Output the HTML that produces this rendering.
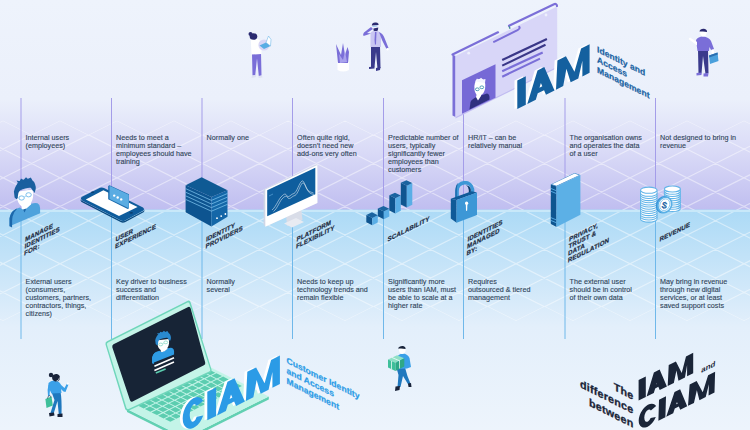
<!DOCTYPE html>
<html><head><meta charset="utf-8">
<style>
html,body{margin:0;padding:0;width:750px;height:430px;overflow:hidden;background:#eef2fb;}
svg{display:block;}
.t{font-family:"Liberation Sans",sans-serif;font-size:7.2px;fill:#30455a;stroke:#30455a;stroke-width:0.12px;}
.lb{font-family:"Liberation Sans",sans-serif;font-size:6.6px;font-weight:bold;fill:#1d2a40;stroke:#1d2a40;stroke-width:0.2px;letter-spacing:0.2px;}
.big{font-family:"Liberation Sans",sans-serif;font-weight:bold;}
</style></head>
<body>
<svg width="750" height="430" viewBox="0 0 750 430">
<defs>
<linearGradient id="bg" x1="0" y1="0" x2="0" y2="430" gradientUnits="userSpaceOnUse">
<stop offset="0" stop-color="#eef3fc"/>
<stop offset="0.23" stop-color="#ebf0fb"/>
<stop offset="0.35" stop-color="#dadbf7"/>
<stop offset="0.4860" stop-color="#c0bef0"/>
<stop offset="0.4884" stop-color="#acdaf6"/>
<stop offset="0.76" stop-color="#e3effb"/>
<stop offset="1" stop-color="#edf4fc"/>
</linearGradient>

<clipPath id="gc"><polygon points="-111.0,120.5 -82.5,134.8 -54.0,120.5 -25.5,134.8 3.0,120.5 31.5,134.8 60.0,120.5 88.5,134.8 117.0,120.5 145.5,134.8 174.0,120.5 202.5,134.8 231.0,120.5 259.5,134.8 288.0,120.5 316.5,134.8 345.0,120.5 373.5,134.8 402.0,120.5 430.5,134.8 459.0,120.5 487.5,134.8 516.0,120.5 544.5,134.8 573.0,120.5 601.5,134.8 630.0,120.5 658.5,134.8 687.0,120.5 715.5,134.8 744.0,120.5 772.5,134.8 801.0,120.5 829.5,134.8 829.5,306.7 801.0,321.0 772.5,306.7 744.0,321.0 715.5,306.7 687.0,321.0 658.5,306.7 630.0,321.0 601.5,306.7 573.0,321.0 544.5,306.7 516.0,321.0 487.5,306.7 459.0,321.0 430.5,306.7 402.0,321.0 373.5,306.7 345.0,321.0 316.5,306.7 288.0,321.0 259.5,306.7 231.0,321.0 202.5,306.7 174.0,321.0 145.5,306.7 117.0,321.0 88.5,306.7 60.0,321.0 31.5,306.7 3.0,321.0 -25.5,306.7 -54.0,321.0 -82.5,306.7 -111.0,321.0"/></clipPath>
</defs>
<rect width="750" height="430" fill="url(#bg)"/>
<path clip-path="url(#gc)" d="M-50 437.66L800 864.90M-50 -196.66L800 -623.90M-50 409.01L800 836.25M-50 -168.01L800 -595.25M-50 380.36L800 807.60M-50 -139.36L800 -566.60M-50 351.71L800 778.95M-50 -110.71L800 -537.95M-50 323.06L800 750.30M-50 -82.06L800 -509.30M-50 294.41L800 721.65M-50 -53.41L800 -480.65M-50 265.76L800 693.00M-50 -24.76L800 -452.00M-50 237.11L800 664.35M-50 3.89L800 -423.35M-50 208.46L800 635.70M-50 32.54L800 -394.70M-50 179.81L800 607.05M-50 61.19L800 -366.05M-50 151.16L800 578.40M-50 89.84L800 -337.40M-50 122.51L800 549.75M-50 118.49L800 -308.75M-50 93.86L800 521.10M-50 147.14L800 -280.10M-50 65.21L800 492.45M-50 175.79L800 -251.45M-50 36.56L800 463.80M-50 204.44L800 -222.80M-50 7.91L800 435.15M-50 233.09L800 -194.15M-50 -20.74L800 406.50M-50 261.74L800 -165.50M-50 -49.39L800 377.85M-50 290.39L800 -136.85M-50 -78.04L800 349.20M-50 319.04L800 -108.20M-50 -106.69L800 320.55M-50 347.69L800 -79.55M-50 -135.34L800 291.90M-50 376.34L800 -50.90M-50 -163.99L800 263.25M-50 404.99L800 -22.25M-50 -192.64L800 234.60M-50 433.64L800 6.40M-50 -221.29L800 205.95M-50 462.29L800 35.05M-50 -249.94L800 177.30M-50 490.94L800 63.70M-50 -278.59L800 148.65M-50 519.59L800 92.35M-50 -307.24L800 120.00M-50 548.24L800 121.00M-50 -335.89L800 91.35M-50 576.89L800 149.65M-50 -364.54L800 62.70M-50 605.54L800 178.30M-50 -393.19L800 34.05M-50 634.19L800 206.95M-50 -421.84L800 5.40M-50 662.84L800 235.60M-50 -450.49L800 -23.25M-50 691.49L800 264.25M-50 -479.14L800 -51.90M-50 720.14L800 292.90M-50 -507.79L800 -80.55M-50 748.79L800 321.55M-50 -536.44L800 -109.20M-50 777.44L800 350.20M-50 -565.09L800 -137.85M-50 806.09L800 378.85M-50 -593.74L800 -166.50M-50 834.74L800 407.50M-50 -622.39L800 -195.15M-50 863.39L800 436.15M-50 -651.04L800 -223.80M-50 892.04L800 464.80M-50 -679.69L800 -252.45M-50 920.69L800 493.45M-50 -708.34L800 -281.10M-50 949.34L800 522.10M-50 -736.99L800 -309.75M-50 977.99L800 550.75" stroke="#ffffff" stroke-width="1.2" stroke-opacity="0.45" fill="none"/>
<line x1="0" y1="211" x2="750" y2="211" stroke="#c8e8f9" stroke-width="2"/>
<line x1="21" y1="98" x2="21" y2="210" stroke="#a49de9" stroke-width="1"/>
<line x1="21" y1="210" x2="21" y2="339" stroke="#6fb8ea" stroke-width="1"/>
<line x1="111.5" y1="98" x2="111.5" y2="210" stroke="#a49de9" stroke-width="1"/>
<line x1="111.5" y1="210" x2="111.5" y2="339" stroke="#6fb8ea" stroke-width="1"/>
<line x1="202" y1="98" x2="202" y2="210" stroke="#a49de9" stroke-width="1"/>
<line x1="202" y1="210" x2="202" y2="339" stroke="#6fb8ea" stroke-width="1"/>
<line x1="292.5" y1="98" x2="292.5" y2="210" stroke="#a49de9" stroke-width="1"/>
<line x1="292.5" y1="210" x2="292.5" y2="339" stroke="#6fb8ea" stroke-width="1"/>
<line x1="383.5" y1="98" x2="383.5" y2="210" stroke="#a49de9" stroke-width="1"/>
<line x1="383.5" y1="210" x2="383.5" y2="339" stroke="#6fb8ea" stroke-width="1"/>
<line x1="463.5" y1="112" x2="463.5" y2="210" stroke="#a49de9" stroke-width="1"/>
<line x1="463.5" y1="210" x2="463.5" y2="339" stroke="#6fb8ea" stroke-width="1"/>
<line x1="565" y1="98" x2="565" y2="210" stroke="#a49de9" stroke-width="1"/>
<line x1="565" y1="210" x2="565" y2="339" stroke="#6fb8ea" stroke-width="1"/>
<line x1="655.5" y1="98" x2="655.5" y2="210" stroke="#a49de9" stroke-width="1"/>
<line x1="655.5" y1="210" x2="655.5" y2="339" stroke="#6fb8ea" stroke-width="1"/>
<g>
<path d="M9.5 226.3 L9.5 218.5 Q10.5 213 13 211 Q16 208.5 19.5 207.5 L24.2 210 L31.2 203.8 Q35 202.5 37.5 203.3 Q40 204.5 40.1 208 L40.1 213.3 Z" fill="#4fa2dc"/>
<path d="M9.5 226.3 L9.5 218.5 Q10.5 213 13 211 Q15.5 209 17.5 208.3 Q13.5 212 12.6 216.5 Q12 219 12.1 227.6 Z" fill="#1c68ab"/>
<path d="M21.6 205.7 L30.6 202.8 L31.2 204.3 L24.2 210.6 L21.6 208.6 Z" fill="#ffffff"/>
<path d="M23 209.6 L24.6 212.6 L26.4 208.4 Z" fill="#1c68ab"/>
<path d="M17.8 191.6 L32.5 189.7 Q33.6 193 33.1 196.7 Q32.6 200.5 31.2 202.5 Q29.5 205 27.4 205.7 Q24.5 207 22.3 207 Q19.5 205 18.4 202.5 Q17 199.5 17.1 196.7 Z" fill="#ffffff"/>
<path d="M14.6 197.4 L13.9 191.6 Q14.5 188 15.9 185.9 L17.8 182.7 Q19.5 181 21.6 180.1 L26.1 179.5 L29.3 178.6 L32.5 180.6 Q34.5 182 35 183.9 Q36 186.5 35.7 189.1 Q35.3 191.5 34.4 192.9 Q33.5 191 32.5 190.3 Q31.5 188.5 30.6 187.8 Q28 187.6 25.4 188.4 Q22.5 189 20.3 190.3 Q19 191.5 18.4 192.9 Q17.8 195.5 17.8 198 L16.5 199.3 Z" fill="#1a5f9f"/>
<path d="M17.8 182.7 L16.6 180.6 L19.7 181.2 L21 178.6 L23.5 180 L26 177.3 L28 179 L30.8 177.6 L32.5 180.6 Z" fill="#1a5f9f"/>
<ellipse cx="21.6" cy="198" rx="2.7" ry="2.1" fill="none" stroke="#6db8ea" stroke-width="0.9"/>
<ellipse cx="28.6" cy="194.8" rx="2.7" ry="2.1" fill="none" stroke="#6db8ea" stroke-width="0.9"/>
<path d="M24.2 197 L25.9 196" stroke="#6db8ea" stroke-width="0.7"/>
</g>
<g>
<path d="M81.5 197 L100 187.8 Q102 187 104 187.9 L143 207.5 Q145 209 143.5 210.5 L125 220.5 Q123 221.5 121 220.6 L82 200.5 Q80 198.8 81.5 197 Z" fill="#0f5c9c"/>
<path d="M80.6 199 L80.6 200.5 Q80.8 201.6 82 202.2 L121 222.3 Q123 223 125 222.2 L143.5 212.3 Q144.6 211.5 144.5 210.3 L144.5 209 Q144.6 210.3 143.5 211 L125 220.8 Q123 221.6 121 220.8 L82 200.8 Q80.6 200 80.6 199 Z" fill="#0a4a80"/>
<path d="M85.8 199.6 L103.4 190.3 L137.6 206.9 L119 215.9 Z" fill="#ffffff"/>
<ellipse cx="92.6" cy="192.3" rx="1.6" ry="0.8" fill="#0a3f70"/>
<ellipse cx="131.2" cy="212.8" rx="1.8" ry="0.9" fill="#0a3f70"/>
<path d="M108.2 186 L109.5 185.2 L129 194.2 L129 208.2 L127.7 208.9 L108.2 199.3 Z" fill="#1a6aad"/>
<path d="M109.5 185.8 L128.8 194.7 L128.8 208.2 L109.5 199 Z" fill="#5aace2"/>
<circle cx="114.2" cy="195.6" r="1.2" fill="#fff"/>
<circle cx="117.7" cy="197.5" r="1.2" fill="#fff"/>
<circle cx="121.2" cy="199.4" r="1.2" fill="#fff"/>
</g>
<polygon points="185.6,185.3 211.4,197.1 211.4,226.5 185.6,212.3" fill="#0d5490"/>
<polygon points="211.4,197.1 227.5,190.2 227.5,216.7 211.4,226.5" fill="#1467a8"/>
<polygon points="201.6,177.3 227.5,190.2 211.4,197.1 185.6,185.3" fill="#0f5a94"/>
<polyline points="185.6,188.6 211.4,200.4 227.5,193.5" fill="none" stroke="#7cc3ee" stroke-width="0.75"/>
<polyline points="185.6,192.2 211.4,204.0 227.5,197.1" fill="none" stroke="#7cc3ee" stroke-width="0.75"/>
<polyline points="185.6,195.8 211.4,207.6 227.5,200.7" fill="none" stroke="#7cc3ee" stroke-width="0.75"/>
<polyline points="185.6,199.4 211.4,211.2 227.5,204.3" fill="none" stroke="#7cc3ee" stroke-width="0.75"/>
<circle cx="217.0" cy="218.2" r="0.9" fill="#fff"/>
<circle cx="221.2" cy="216.1" r="0.9" fill="#fff"/>
<circle cx="225.4" cy="214.0" r="0.9" fill="#fff"/>
<g>
<path d="M286 214 L301 207.5 L302.5 220 L287 226 Z" fill="#d9dde8"/>
<path d="M284 223.5 L296 218 L304 222 L292 227.5 Z" fill="#e8ebf2"/>
<path d="M263.6 189.5 L316.6 164.5 L317.4 165 L317.4 203 L266 226.5 L263.6 225 Z" fill="#cfd6e6"/>
<path d="M265.3 189.6 L317.4 165 L317.4 203 L265.3 226.8 Z" fill="#ffffff"/>
<path d="M267.2 190.3 L315.3 167.8 L315.3 194.3 L267.2 216.2 Z" fill="#0f5e9e"/>
<path d="M272 210 C276 207 279 198 282 196 C284 194 285.5 193 287 196 C289 198 291 194 294 193.5 C297 192 299 183 302 181 C304 180 305 186 307 189 C309 192 311 192 313.5 193" fill="none" stroke="#ffffff" stroke-width="0.5"/>
<path d="M273.5 211.5 C277.5 208.5 280 200 283 198 C285 196 286.5 195.5 288 198 C290 200 292 196 295 195.5 C298 194 300 185 302.5 183 C304.5 182 306 188 308 191 C310 194 312 194 314 194.5" fill="none" stroke="#ffffff" stroke-width="0.5"/>
<path d="M269 196 L273 194" stroke="#6aaee0" stroke-width="0.6"/>
</g>
<polygon points="366.3,214.9 372.3,217.9 372.3,225.2 366.3,222.2" fill="#0f5590"/>
<polygon points="372.3,217.9 377.8,215.2 377.8,222.5 372.3,225.2" fill="#5aaee6"/>
<polygon points="372.0,212.3 377.8,215.2 372.3,217.9 366.3,214.9" fill="#1a64a0"/>
<polygon points="377.8,208.5 383.8,211.5 383.8,219.3 377.8,216.3" fill="#0f5590"/>
<polygon points="383.8,211.5 389.3,208.8 389.3,216.6 383.8,219.3" fill="#5aaee6"/>
<polygon points="383.5,205.9 389.3,208.8 383.8,211.5 377.8,208.5" fill="#1a64a0"/>
<polygon points="389.3,195.3 395.3,198.3 395.3,213.4 389.3,210.4" fill="#0f5590"/>
<polygon points="395.3,198.3 400.8,195.6 400.8,210.7 395.3,213.4" fill="#5aaee6"/>
<polygon points="395.0,192.7 400.8,195.6 395.3,198.3 389.3,195.3" fill="#1a64a0"/>
<polygon points="400.8,182.8 406.8,185.8 406.8,207.5 400.8,204.5" fill="#0f5590"/>
<polygon points="406.8,185.8 412.3,183.1 412.3,204.8 406.8,207.5" fill="#5aaee6"/>
<polygon points="406.5,180.2 412.3,183.1 406.8,185.8 400.8,182.8" fill="#1a64a0"/>
<g>
<path d="M455.3 199 L455.3 190 Q456 182 464.5 180.8 Q472.5 181 474.3 189 L474.3 193.5 L470.8 194.8 L470.8 189.5 Q470 184.5 464.6 184.6 Q458.8 185.5 458.8 191 L458.8 198.5 Z" fill="#3d97d6"/>
<path d="M470.8 189.5 L470.8 194.8 L468.8 195.5 L468.8 190 Q468.5 186.5 466 185.2 Q470 185.5 470.8 189.5 Z" fill="#0c3f6e"/>
<path d="M455.3 199 L455.3 191 Q455.5 185 458 183 Q456.8 186 456.8 191 L456.8 199 Z" fill="#1c6aab"/>
<polygon points="450.8,198.8 471.7,191.3 477,192.4 456.6,200" fill="#0f5a98"/>
<polygon points="450.8,198.8 456.6,200 456.6,222.7 450.8,218.6" fill="#0f5a98"/>
<polygon points="456.6,200 477,192.4 477,215.1 456.6,222.7" fill="#3d97d6"/>
<circle cx="466.6" cy="203.2" r="1.6" fill="#fff"/>
<path d="M465.8 203.5 L467.4 203 L467.2 210.5 L466 211 Z" fill="#fff"/>
</g>
<g>
<polygon points="550.8,184.4 574.6,172.9 580.4,175 556.5,186.6" fill="#2f86c8"/>
<polygon points="552,184.2 574.6,173.5 579,175.3 556.5,185.8" fill="#ffffff"/>
<polygon points="550.8,184.4 556.5,186.6 556.5,227 550.8,224.1" fill="#0e5590"/>
<polygon points="556.5,186.6 580.4,175 580.4,214.7 556.5,227" fill="#5cb0e6"/>
<path d="M550.8 188.4 L556.5 190.8 M550.8 191.2 L556.5 193.6 M550.8 217.6 L556.5 220 M550.8 220.4 L556.5 222.8" stroke="#5aaee6" stroke-width="0.9"/>
</g>
<rect x="664.4" y="189.0" width="16.0" height="19.5" fill="#ffffff"/><ellipse cx="672.4" cy="208.5" rx="8.0" ry="3.0" fill="#ffffff"/><path d="M664.4 208.5 A8.0 3.0 0 0 0 680.4 208.5" fill="none" stroke="#62b4e8" stroke-width="1.05"/><path d="M664.4 206.3 A8.0 3.0 0 0 0 680.4 206.3" fill="none" stroke="#62b4e8" stroke-width="1.05"/><path d="M664.4 204.2 A8.0 3.0 0 0 0 680.4 204.2" fill="none" stroke="#62b4e8" stroke-width="1.05"/><path d="M664.4 202.0 A8.0 3.0 0 0 0 680.4 202.0" fill="none" stroke="#62b4e8" stroke-width="1.05"/><path d="M664.4 199.9 A8.0 3.0 0 0 0 680.4 199.9" fill="none" stroke="#62b4e8" stroke-width="1.05"/><path d="M664.4 197.7 A8.0 3.0 0 0 0 680.4 197.7" fill="none" stroke="#62b4e8" stroke-width="1.05"/><path d="M664.4 195.6 A8.0 3.0 0 0 0 680.4 195.6" fill="none" stroke="#62b4e8" stroke-width="1.05"/><path d="M664.4 193.4 A8.0 3.0 0 0 0 680.4 193.4" fill="none" stroke="#62b4e8" stroke-width="1.05"/><path d="M664.4 191.3 A8.0 3.0 0 0 0 680.4 191.3" fill="none" stroke="#62b4e8" stroke-width="1.05"/><path d="M664.4 189.0 V208.5 M680.4 189.0 V208.5" stroke="#62b4e8" stroke-width="0.9"/><ellipse cx="672.4" cy="189.0" rx="8.0" ry="3.0" fill="#ffffff" stroke="#62b4e8" stroke-width="1.1"/>
<rect x="640.5" y="190.2" width="16.6" height="28.8" fill="#ffffff"/><ellipse cx="648.8" cy="219.0" rx="8.3" ry="3.1" fill="#ffffff"/><path d="M640.5 219.0 A8.3 3.1 0 0 0 657.1 219.0" fill="none" stroke="#62b4e8" stroke-width="1.05"/><path d="M640.5 216.8 A8.3 3.1 0 0 0 657.1 216.8" fill="none" stroke="#62b4e8" stroke-width="1.05"/><path d="M640.5 214.7 A8.3 3.1 0 0 0 657.1 214.7" fill="none" stroke="#62b4e8" stroke-width="1.05"/><path d="M640.5 212.5 A8.3 3.1 0 0 0 657.1 212.5" fill="none" stroke="#62b4e8" stroke-width="1.05"/><path d="M640.5 210.4 A8.3 3.1 0 0 0 657.1 210.4" fill="none" stroke="#62b4e8" stroke-width="1.05"/><path d="M640.5 208.2 A8.3 3.1 0 0 0 657.1 208.2" fill="none" stroke="#62b4e8" stroke-width="1.05"/><path d="M640.5 206.1 A8.3 3.1 0 0 0 657.1 206.1" fill="none" stroke="#62b4e8" stroke-width="1.05"/><path d="M640.5 203.9 A8.3 3.1 0 0 0 657.1 203.9" fill="none" stroke="#62b4e8" stroke-width="1.05"/><path d="M640.5 201.8 A8.3 3.1 0 0 0 657.1 201.8" fill="none" stroke="#62b4e8" stroke-width="1.05"/><path d="M640.5 199.6 A8.3 3.1 0 0 0 657.1 199.6" fill="none" stroke="#62b4e8" stroke-width="1.05"/><path d="M640.5 197.5 A8.3 3.1 0 0 0 657.1 197.5" fill="none" stroke="#62b4e8" stroke-width="1.05"/><path d="M640.5 195.3 A8.3 3.1 0 0 0 657.1 195.3" fill="none" stroke="#62b4e8" stroke-width="1.05"/><path d="M640.5 193.2 A8.3 3.1 0 0 0 657.1 193.2" fill="none" stroke="#62b4e8" stroke-width="1.05"/><path d="M640.5 190.2 V219.0 M657.1 190.2 V219.0" stroke="#62b4e8" stroke-width="0.9"/><ellipse cx="648.8" cy="190.2" rx="8.3" ry="3.1" fill="#ffffff" stroke="#62b4e8" stroke-width="1.1"/>
<g transform="translate(664.8 204.8) rotate(25)">
<ellipse cx="-1.3" cy="0.5" rx="7.4" ry="8.8" fill="#3a95d8"/>
<ellipse cx="0" cy="0" rx="7.4" ry="8.8" fill="#5ab0e6"/>
<ellipse cx="0" cy="0" rx="5.8" ry="7.1" fill="#ffffff"/>
<ellipse cx="0" cy="0" rx="4.8" ry="6.1" fill="none" stroke="#5ab0e6" stroke-width="0.6"/>
</g>
<text x="661.8" y="208.6" font-family="Liberation Sans" font-weight="bold" font-size="9.5" fill="#1a5f9f" transform="rotate(15 665 205)">$</text>
<text class="t" x="25.6" y="140"><tspan x="25.6" y="140.0">Internal users</tspan><tspan x="25.6" y="148.0">(employees)</tspan></text>
<text class="t" x="25.6" y="284"><tspan x="25.6" y="284.0">External users</tspan><tspan x="25.6" y="292.0">(consumers,</tspan><tspan x="25.6" y="300.0">customers, partners,</tspan><tspan x="25.6" y="308.0">contractors, things,</tspan><tspan x="25.6" y="316.0">citizens)</tspan></text>
<g transform="matrix(0.92,-0.46,-0.06,1,24.9,241.8)"><text class="lb" x="0" y="0"><tspan x="0" y="0.0">MANAGE</tspan><tspan x="0" y="7.0">IDENTITIES</tspan><tspan x="0" y="14.0">FOR:</tspan></text></g>
<text class="t" x="116.1" y="140"><tspan x="116.1" y="140.0">Needs to meet a</tspan><tspan x="116.1" y="148.0">minimum standard –</tspan><tspan x="116.1" y="156.0">employees should have</tspan><tspan x="116.1" y="164.0">training</tspan></text>
<text class="t" x="116.1" y="284"><tspan x="116.1" y="284.0">Key driver to business</tspan><tspan x="116.1" y="292.0">success and</tspan><tspan x="116.1" y="300.0">differentiation</tspan></text>
<g transform="matrix(0.92,-0.46,-0.06,1,115.4,241.8)"><text class="lb" x="0" y="0"><tspan x="0" y="0.0">USER</tspan><tspan x="0" y="7.0">EXPERIENCE</tspan></text></g>
<text class="t" x="206.6" y="140"><tspan x="206.6" y="140.0">Normally one</tspan></text>
<text class="t" x="206.6" y="284"><tspan x="206.6" y="284.0">Normally</tspan><tspan x="206.6" y="292.0">several</tspan></text>
<g transform="matrix(0.92,-0.46,-0.06,1,205.9,241.8)"><text class="lb" x="0" y="0"><tspan x="0" y="0.0">IDENTITY</tspan><tspan x="0" y="7.0">PROVIDERS</tspan></text></g>
<text class="t" x="297.1" y="140"><tspan x="297.1" y="140.0">Often quite rigid,</tspan><tspan x="297.1" y="148.0">doesn’t need new</tspan><tspan x="297.1" y="156.0">add-ons very often</tspan></text>
<text class="t" x="297.1" y="284"><tspan x="297.1" y="284.0">Needs to keep up</tspan><tspan x="297.1" y="292.0">technology trends and</tspan><tspan x="297.1" y="300.0">remain flexible</tspan></text>
<g transform="matrix(0.92,-0.46,-0.06,1,296.4,241.8)"><text class="lb" x="0" y="0"><tspan x="0" y="0.0">PLATFORM</tspan><tspan x="0" y="7.0">FLEXIBILITY</tspan></text></g>
<text class="t" x="388.1" y="140"><tspan x="388.1" y="140.0">Predictable number of</tspan><tspan x="388.1" y="148.0">users, typically</tspan><tspan x="388.1" y="156.0">significantly fewer</tspan><tspan x="388.1" y="164.0">employees than</tspan><tspan x="388.1" y="172.0">customers</tspan></text>
<text class="t" x="388.1" y="284"><tspan x="388.1" y="284.0">Significantly more</tspan><tspan x="388.1" y="292.0">users than IAM, must</tspan><tspan x="388.1" y="300.0">be able to scale at a</tspan><tspan x="388.1" y="308.0">higher rate</tspan></text>
<g transform="matrix(0.92,-0.46,-0.06,1,387.4,241.8)"><text class="lb" x="0" y="0"><tspan x="0" y="0.0">SCALABILITY</tspan></text></g>
<text class="t" x="468.1" y="140"><tspan x="468.1" y="140.0">HR/IT – can be</tspan><tspan x="468.1" y="148.0">relatively manual</tspan></text>
<text class="t" x="468.1" y="284"><tspan x="468.1" y="284.0">Requires</tspan><tspan x="468.1" y="292.0">outsourced &amp; tiered</tspan><tspan x="468.1" y="300.0">management</tspan></text>
<g transform="matrix(0.92,-0.46,-0.06,1,467.4,241.8)"><text class="lb" x="0" y="0"><tspan x="0" y="0.0">IDENTITIES</tspan><tspan x="0" y="7.0">MANAGED</tspan><tspan x="0" y="14.0">BY:</tspan></text></g>
<text class="t" x="569.6" y="140"><tspan x="569.6" y="140.0">The organisation owns</tspan><tspan x="569.6" y="148.0">and operates the data</tspan><tspan x="569.6" y="156.0">of a user</tspan></text>
<text class="t" x="569.6" y="284"><tspan x="569.6" y="284.0">The external user</tspan><tspan x="569.6" y="292.0">should be in control</tspan><tspan x="569.6" y="300.0">of their own data</tspan></text>
<g transform="matrix(0.92,-0.46,-0.06,1,568.9,241.8)"><text class="lb" x="0" y="0"><tspan x="0" y="0.0">PRIVACY,</tspan><tspan x="0" y="7.0">TRUST &amp;</tspan><tspan x="0" y="14.0">DATA</tspan><tspan x="0" y="21.0">REGULATION</tspan></text></g>
<text class="t" x="660.1" y="140"><tspan x="660.1" y="140.0">Not designed to bring in</tspan><tspan x="660.1" y="148.0">revenue</tspan></text>
<text class="t" x="660.1" y="284"><tspan x="660.1" y="284.0">May bring in revenue</tspan><tspan x="660.1" y="292.0">through new digital</tspan><tspan x="660.1" y="300.0">services, or at least</tspan><tspan x="660.1" y="308.0">saved support costs</tspan></text>
<g transform="matrix(0.92,-0.46,-0.06,1,659.4,241.8)"><text class="lb" x="0" y="0"><tspan x="0" y="0.0">REVENUE</tspan></text></g>
<polygon points="452.5,54.5 455.5,56 455.5,117 452.5,115.5" fill="#7b6fd8"/>
<polygon points="455.5,56 555,7.5 557.2,6.5 557.2,66.5 455.5,117" fill="#d8d6f8"/>
<polygon points="455.5,117 557.2,66.5 557.2,68 455.5,118.5" fill="#c2bdf2"/>
<path d="M452.5 54.5 L498 32.3 M509 25.8 L554 4.2 Q556.5 3.2 557 6" fill="none" stroke="#7b6fd8" stroke-width="2.2" stroke-linecap="round"/>
<path d="M494 41.8 L517.5 30.2 Q520.5 28.3 519.3 26.8" fill="none" stroke="#7b6fd8" stroke-width="2" stroke-linecap="round"/>
<path d="M509.2 26.2 L510 28.8" stroke="#4c8a9a" stroke-width="1.4"/>
<circle cx="468.7" cy="53.2" r="1.4" fill="#eef0fc"/><circle cx="546" cy="15" r="1.4" fill="#eef0fc"/>
<polygon points="462,80.3 495.5,64.2 495.5,97.7 462,113.8" fill="#7669d6"/>
<path d="M469.5 109.5 L470.5 102 Q472 98.5 478 96.5 L487 93.5 Q489.5 94 489.5 97.5 L489.5 99.5 Z" fill="#2f3080"/>
<path d="M476 97 L478 100.5 L481 96 L481.5 92 L477 93 Z" fill="#ffffff"/>
<path d="M474.5 90 Q473.5 82 477.5 79.5 Q481 78 483.5 80 Q486 82.5 485 89 Q484 94 480 95.5 Q475.5 96 474.5 90 Z" fill="#ffffff"/>
<path d="M475 81.5 L477 78.5 L479 80 L481 77.8 L483 79.5 L485.5 79 L485 83 Z" fill="#f4f4ff"/>
<ellipse cx="477.3" cy="89.3" rx="1.9" ry="1.4" fill="none" stroke="#2f8aa6" stroke-width="0.8"/><ellipse cx="481.8" cy="87.3" rx="1.9" ry="1.4" fill="none" stroke="#2f8aa6" stroke-width="0.8"/>
<path d="M502.2 60 L546.9 39 M502.2 65.6 L545.5 44.7" stroke="#3a3788" stroke-width="2.1"/>
<path d="M502.2 71.2 L542.7 52.5 M502.2 76.7 L540 58.6" stroke="#7b6fd8" stroke-width="2.1"/>
<path transform="matrix(1,-0.5,0,1.0,514.5,109)" d="M0.00 0H8.50V-28.50H0.00ZM10.00 0L20.20 -28.50H27.00L37.20 0H28.70L26.76 -5.42H20.44L18.50 0ZM22.17 -10.26H25.03L23.60 -14.25ZM38.70 0L40.12 -28.50H48.62L57.18 -8.55L63.80 -28.50H72.30V0H65.08V-15.68L61.01 -0.00H53.36L49.12 -15.68L45.93 0Z" fill="#ffffff"/>
<path transform="matrix(1,-0.5,0,1.0,517.3,109)" d="M0.00 0H8.50V-28.50H0.00ZM10.00 0L20.20 -28.50H27.00L37.20 0H28.70L26.76 -5.42H20.44L18.50 0ZM22.17 -10.26H25.03L23.60 -14.25ZM38.70 0L40.12 -28.50H48.62L57.18 -8.55L63.80 -28.50H72.30V0H65.08V-15.68L61.01 -0.00H53.36L49.12 -15.68L45.93 0Z" fill="#14609f"/>
<text class="big" transform="matrix(1,0.5,0,1,597,52.0)" font-size="8.6" fill="#1a62a2" stroke="#1a62a2" stroke-width="0.2"><tspan x="0" y="0">Identity and</tspan><tspan x="0" y="10.2">Access</tspan><tspan x="0" y="20.4">Management</tspan></text>
<polygon points="127.0,412.0 185.3,441.1 268.8,399.4 268.8,396.4 185.3,438.1 127.0,409.0" fill="#62d0b2"/>
<polygon points="127.0,409.0 210.5,367.3 268.8,396.4 185.3,438.1" fill="#c4f4e8"/>
<polygon points="138.2,405.7 143.2,403.2 148.7,406.0 143.7,408.5" fill="#5ccdb0"/>
<polygon points="144.8,409.0 149.8,406.5 155.4,409.3 150.3,411.8" fill="#5ccdb0"/>
<polygon points="151.5,412.4 156.5,409.9 162.0,412.6 157.0,415.1" fill="#5ccdb0"/>
<polygon points="158.1,415.7 163.1,413.2 168.7,415.9 163.6,418.4" fill="#5ccdb0"/>
<polygon points="164.8,419.0 169.8,416.5 175.3,419.2 170.3,421.8" fill="#5ccdb0"/>
<polygon points="144.2,402.7 149.3,400.2 154.8,402.9 149.7,405.5" fill="#5ccdb0"/>
<polygon points="150.9,406.0 155.9,403.5 161.4,406.3 156.4,408.8" fill="#5ccdb0"/>
<polygon points="157.5,409.3 162.5,406.8 168.1,409.6 163.0,412.1" fill="#5ccdb0"/>
<polygon points="164.2,412.7 169.2,410.1 174.7,412.9 169.7,415.4" fill="#5ccdb0"/>
<polygon points="170.8,416.0 175.8,413.5 181.4,416.2 176.3,418.7" fill="#5ccdb0"/>
<polygon points="150.3,399.7 155.3,397.2 160.8,399.9 155.8,402.4" fill="#5ccdb0"/>
<polygon points="156.9,403.0 162.0,400.5 167.5,403.2 162.4,405.8" fill="#5ccdb0"/>
<polygon points="163.6,406.3 168.6,403.8 174.1,406.6 169.1,409.1" fill="#5ccdb0"/>
<polygon points="170.2,409.6 175.2,407.1 180.8,409.9 175.7,412.4" fill="#5ccdb0"/>
<polygon points="176.9,413.0 181.9,410.4 187.4,413.2 182.4,415.7" fill="#5ccdb0"/>
<polygon points="156.3,396.7 161.4,394.1 166.9,396.9 161.9,399.4" fill="#5ccdb0"/>
<polygon points="163.0,400.0 168.0,397.5 173.5,400.2 168.5,402.7" fill="#5ccdb0"/>
<polygon points="169.6,403.3 174.7,400.8 180.2,403.5 175.1,406.0" fill="#5ccdb0"/>
<polygon points="176.3,406.6 181.3,404.1 186.8,406.9 181.8,409.4" fill="#5ccdb0"/>
<polygon points="182.9,409.9 187.9,407.4 193.5,410.2 188.4,412.7" fill="#5ccdb0"/>
<polygon points="162.4,393.6 167.4,391.1 172.9,393.9 167.9,396.4" fill="#5ccdb0"/>
<polygon points="169.0,397.0 174.1,394.4 179.6,397.2 174.6,399.7" fill="#5ccdb0"/>
<polygon points="175.7,400.3 180.7,397.8 186.2,400.5 181.2,403.0" fill="#5ccdb0"/>
<polygon points="182.3,403.6 187.4,401.1 192.9,403.8 187.8,406.3" fill="#5ccdb0"/>
<polygon points="189.0,406.9 194.0,404.4 199.5,407.1 194.5,409.7" fill="#5ccdb0"/>
<polygon points="168.4,390.6 173.5,388.1 179.0,390.9 174.0,393.4" fill="#5ccdb0"/>
<polygon points="175.1,393.9 180.1,391.4 185.6,394.2 180.6,396.7" fill="#5ccdb0"/>
<polygon points="181.7,397.2 186.8,394.7 192.3,397.5 187.3,400.0" fill="#5ccdb0"/>
<polygon points="188.4,400.6 193.4,398.1 198.9,400.8 193.9,403.3" fill="#5ccdb0"/>
<polygon points="195.0,403.9 200.1,401.4 205.6,404.1 200.5,406.6" fill="#5ccdb0"/>
<polygon points="174.5,387.6 179.5,385.1 185.0,387.8 180.0,390.3" fill="#5ccdb0"/>
<polygon points="181.1,390.9 186.2,388.4 191.7,391.2 186.7,393.7" fill="#5ccdb0"/>
<polygon points="187.8,394.2 192.8,391.7 198.3,394.5 193.3,397.0" fill="#5ccdb0"/>
<polygon points="194.4,397.5 199.5,395.0 205.0,397.8 200.0,400.3" fill="#5ccdb0"/>
<polygon points="201.1,400.9 206.1,398.3 211.6,401.1 206.6,403.6" fill="#5ccdb0"/>
<polygon points="180.6,384.6 185.6,382.1 191.1,384.8 186.1,387.3" fill="#5ccdb0"/>
<polygon points="187.2,387.9 192.2,385.4 197.7,388.1 192.7,390.6" fill="#5ccdb0"/>
<polygon points="193.8,391.2 198.9,388.7 204.4,391.4 199.4,394.0" fill="#5ccdb0"/>
<polygon points="200.5,394.5 205.5,392.0 211.0,394.8 206.0,397.3" fill="#5ccdb0"/>
<polygon points="207.1,397.8 212.2,395.3 217.7,398.1 212.7,400.6" fill="#5ccdb0"/>
<polygon points="186.6,381.5 191.6,379.0 197.1,381.8 192.1,384.3" fill="#5ccdb0"/>
<polygon points="193.3,384.9 198.3,382.4 203.8,385.1 198.8,387.6" fill="#5ccdb0"/>
<polygon points="199.9,388.2 204.9,385.7 210.4,388.4 205.4,390.9" fill="#5ccdb0"/>
<polygon points="206.5,391.5 211.6,389.0 217.1,391.7 212.1,394.2" fill="#5ccdb0"/>
<polygon points="213.2,394.8 218.2,392.3 223.7,395.1 218.7,397.6" fill="#5ccdb0"/>
<polygon points="192.7,378.5 197.7,376.0 203.2,378.8 198.2,381.3" fill="#5ccdb0"/>
<polygon points="199.3,381.8 204.3,379.3 209.8,382.1 204.8,384.6" fill="#5ccdb0"/>
<polygon points="206.0,385.2 211.0,382.6 216.5,385.4 211.5,387.9" fill="#5ccdb0"/>
<polygon points="212.6,388.5 217.6,386.0 223.1,388.7 218.1,391.2" fill="#5ccdb0"/>
<polygon points="219.2,391.8 224.3,389.3 229.8,392.0 224.8,394.5" fill="#5ccdb0"/>
<polygon points="198.7,375.5 203.7,373.0 209.3,375.7 204.2,378.2" fill="#5ccdb0"/>
<polygon points="205.4,378.8 210.4,376.3 215.9,379.1 210.9,381.6" fill="#5ccdb0"/>
<polygon points="212.0,382.1 217.0,379.6 222.5,382.4 217.5,384.9" fill="#5ccdb0"/>
<polygon points="218.7,385.4 223.7,382.9 229.2,385.7 224.2,388.2" fill="#5ccdb0"/>
<polygon points="225.3,388.8 230.3,386.3 235.8,389.0 230.8,391.5" fill="#5ccdb0"/>
<polygon points="204.8,372.5 209.8,370.0 215.3,372.7 210.3,375.2" fill="#5ccdb0"/>
<polygon points="211.4,375.8 216.4,373.3 222.0,376.0 216.9,378.5" fill="#5ccdb0"/>
<polygon points="218.1,379.1 223.1,376.6 228.6,379.4 223.6,381.9" fill="#5ccdb0"/>
<polygon points="224.7,382.4 229.7,379.9 235.2,382.7 230.2,385.2" fill="#5ccdb0"/>
<polygon points="231.4,385.7 236.4,383.2 241.9,386.0 236.9,388.5" fill="#5ccdb0"/>
<path d="M107 341.3 L187.8 300.8 Q190 300 190.6 302.2 L211.6 369.8 Q212 372 210 373 L128.8 410.5 Q126 411.5 125.2 409 L105.5 344.5 Q105 342.2 107 341.3 Z" fill="#6fd6bb"/>
<path d="M108.4 342.3 L187.6 302.5 Q189 302 189.4 303.5 L210.2 369.6 Q210.5 371 209.2 371.6 L128.6 408.9 Q127 409.6 126.5 408 L106.9 344.6 Q106.6 343 108.4 342.3 Z" fill="#c4f4e8"/>
<path d="M113.5 344.2 L188.2 306.9 Q190 306.2 190.6 308.3 L205.2 362.5 Q205.7 364.4 203.9 365.3 L132.6 401.5 Q130.6 402.4 130 400.3 L112.3 347.3 Q111.9 345.1 113.5 344.2 Z" fill="#172436"/>
<g transform="matrix(0.72,0,0,0.66,145.2,213.8)"><g>
<path d="M9.5 226.3 L9.5 218.5 Q10.5 213 13 211 Q16 208.5 19.5 207.5 L24.2 210 L31.2 203.8 Q35 202.5 37.5 203.3 Q40 204.5 40.1 208 L40.1 213.3 Z" fill="#2e9be4"/>
<path d="M9.5 226.3 L9.5 218.5 Q10.5 213 13 211 Q15.5 209 17.5 208.3 Q13.5 212 12.6 216.5 Q12 219 12.1 227.6 Z" fill="#2e9be4"/>
<path d="M21.6 205.7 L30.6 202.8 L31.2 204.3 L24.2 210.6 L21.6 208.6 Z" fill="#ffffff"/>
<path d="M23 209.6 L24.6 212.6 L26.4 208.4 Z" fill="#2e9be4"/>
<path d="M17.8 191.6 L32.5 189.7 Q33.6 193 33.1 196.7 Q32.6 200.5 31.2 202.5 Q29.5 205 27.4 205.7 Q24.5 207 22.3 207 Q19.5 205 18.4 202.5 Q17 199.5 17.1 196.7 Z" fill="#ffffff"/>
<path d="M14.6 197.4 L13.9 191.6 Q14.5 188 15.9 185.9 L17.8 182.7 Q19.5 181 21.6 180.1 L26.1 179.5 L29.3 178.6 L32.5 180.6 Q34.5 182 35 183.9 Q36 186.5 35.7 189.1 Q35.3 191.5 34.4 192.9 Q33.5 191 32.5 190.3 Q31.5 188.5 30.6 187.8 Q28 187.6 25.4 188.4 Q22.5 189 20.3 190.3 Q19 191.5 18.4 192.9 Q17.8 195.5 17.8 198 L16.5 199.3 Z" fill="#2a8ad0"/>
<path d="M17.8 182.7 L16.6 180.6 L19.7 181.2 L21 178.6 L23.5 180 L26 177.3 L28 179 L30.8 177.6 L32.5 180.6 Z" fill="#2a8ad0"/>
<ellipse cx="21.6" cy="198" rx="2.7" ry="2.1" fill="none" stroke="#6ad0b8" stroke-width="0.9"/>
<ellipse cx="28.6" cy="194.8" rx="2.7" ry="2.1" fill="none" stroke="#6ad0b8" stroke-width="0.9"/>
<path d="M24.2 197 L25.9 196" stroke="#6ad0b8" stroke-width="0.7"/>
</g></g>
<path d="M154.4 366.2 L174 357.8 M154.4 370.4 L174 362" stroke="#ffffff" stroke-width="1.6"/>
<path d="M155.8 373 L165.6 369" stroke="#5ccdaf" stroke-width="1.5"/>
<path transform="matrix(1,-0.5,0,1.0,179.89999999999998,432.65)" d="M20.53 -21.67A11.00 14.85 0 1 0 20.53 -6.83L14.03 -8.78A3.96 8.51 0 1 1 14.03 -19.72ZM24.60 0H33.40V-28.50H24.60ZM34.40 0L44.78 -28.50H51.82L62.20 0H53.40L51.43 -5.42H45.17L43.20 0ZM46.94 -10.26H49.66L48.30 -14.00ZM63.20 0L64.62 -28.50H73.42L81.90 -8.55L88.40 -28.50H97.20V0H89.72V-15.68L85.86 -0.00H77.94L73.96 -15.68L70.68 0Z" fill="#ffffff"/>
<path transform="matrix(1,-0.5,0,1.0,182.7,432.65)" d="M20.53 -21.67A11.00 14.85 0 1 0 20.53 -6.83L14.03 -8.78A3.96 8.51 0 1 1 14.03 -19.72ZM24.60 0H33.40V-28.50H24.60ZM34.40 0L44.78 -28.50H51.82L62.20 0H53.40L51.43 -5.42H45.17L43.20 0ZM46.94 -10.26H49.66L48.30 -14.00ZM63.20 0L64.62 -28.50H73.42L81.90 -8.55L88.40 -28.50H97.20V0H89.72V-15.68L85.86 -0.00H77.94L73.96 -15.68L70.68 0Z" fill="#2b9be6"/>
<text class="big" transform="matrix(1,0.5,0,1,286.5,363)" font-size="8.6" fill="#2b9be6" stroke="#2b9be6" stroke-width="0.2"><tspan x="0" y="0">Customer Identity</tspan><tspan x="0" y="10.3">and Access</tspan><tspan x="0" y="20.6">Management</tspan></text>
<text class="big" text-anchor="end" transform="matrix(1,0.5,0,1,633.5,400)" font-size="10.8" fill="#1a2538" stroke="#1a2538" stroke-width="0.3" letter-spacing="0.2"><tspan x="0" y="0">The</tspan><tspan x="0" y="14">difference</tspan><tspan x="0" y="28">between</tspan></text>
<path transform="matrix(1,-0.5,-0.0,1.0,638.6,400.6)" d="M0.00 0H7.20V-20.50H0.00ZM8.00 0L15.27 -20.50H21.03L28.30 0H21.10L19.72 -3.90H16.58L15.20 0ZM17.82 -7.38H18.48L18.15 -8.32ZM29.10 0L30.12 -20.50H37.33L43.12 -6.15L47.40 -20.50H54.60V0H48.48V-11.28L46.37 -0.00H39.88L37.84 -11.28L35.22 0Z" fill="#1a2538"/>
<path transform="matrix(1,-0.5,-0.03,1.015,638.4,430.65)" d="M17.26 -15.67A9.25 10.85 0 1 0 17.26 -4.83L12.05 -6.52A3.65 5.81 0 1 1 12.05 -13.98ZM20.00 0H27.00V-20.50H20.00ZM27.80 0L35.50 -20.50H41.10L48.80 0H41.80L40.34 -3.90H36.26L34.80 0ZM37.57 -7.38H39.03L38.30 -9.32ZM49.60 0L50.62 -20.50H57.62L64.17 -6.15L69.10 -20.50H76.10V0H70.15V-11.28L67.33 -0.00H61.02L58.11 -11.28L55.55 0Z" fill="#1a2538"/>
<text class="big" transform="matrix(1,-0.5,-0.1,1,701,373)" font-size="7.9" fill="#1a2538">and</text>
<g>
<path d="M252 54 L261 53 L261.5 75.5 L258.8 76 L257 58.5 L255.2 75.5 L252.5 75.5 Z" fill="#7a6ed8"/>
<path d="M252 75.5 L255.5 75 L256 77 L251.5 78 Z M258.5 76 L262 75.5 L262.5 77.5 L258.5 78 Z" fill="#dfe2f2"/>
<path d="M250.8 40 Q251 38 255 38.5 L259 39.5 Q261 41 261.5 45 L261.5 54 L251.5 54.5 Z" fill="#ffffff"/>
<circle cx="264" cy="45" r="5.6" fill="#d8d6f6"/>
<path d="M259.5 45.5 L266 42.5 L270.5 46 L264 49 Z" fill="#58ade4"/>
<path d="M266 42.5 L268.5 36 L271 39.5 L270.5 46 Z" fill="#ffffff" stroke="#58ade4" stroke-width="0.5"/>
<ellipse cx="253.5" cy="36.5" rx="3.8" ry="3.3" fill="#2a2a70"/>
<circle cx="250.5" cy="34" r="2" fill="#2a2a70"/>
</g>
<g>
<path d="M337.5 62 L349 62 L349 70 Q343 73 337.5 70 Z" fill="#ffffff"/>
<path d="M338 63 L336 44 L341 55 L343 43 L345 55 L347.5 47 L349 52 L348 63 Z" fill="#7a6ed8"/>
<path d="M340 63 L339 54 L343 60 L345 51 L347 62 Z" fill="#a9a2ec"/>
</g>
<g>
<path d="M371 46 L380 46 L380.5 68 L377.5 69 L376 52 L374.5 67 L371 67 Z" fill="#3a3a8c"/>
<path d="M369 67 L374.5 66.5 L374.5 68.5 L369 69 Z M376 68 L380.5 67 L380 70 L376 71 Z" fill="#3a3a8c"/>
<path d="M370.5 33 Q372 30.5 376 30.5 Q380 31 381 35 L381 47 L370.5 47 Z" fill="#c9c6f2"/>
<path d="M375 32 L376.5 32 L376 44 L375 45 L374.5 40 Z" fill="#7a6ed8"/>
<path d="M371 33.5 Q366 35 363.5 36 Q362.5 34 364 32.5 L371 27 L373 29 L367 33 Z" fill="#7a6ed8"/>
<path d="M379 32 Q383 33.5 384.5 38 L388.5 48 L386.5 49 L382 40 Z" fill="#7a6ed8"/>
<circle cx="387.5" cy="49.2" r="1.2" fill="#ffffff"/>
<path d="M372 25 Q373 22.5 376.5 23 Q379 23.5 378.5 27 L378 30 Q376 31.5 373.5 30.5 Z" fill="#f2f0ff"/>
<path d="M371.8 25.5 Q372 22 376 22.5 Q379 23 378.5 25 Z" fill="#2a2a70"/>
<path d="M373.5 28.5 L378.3 27.5 L377.8 30.5 Q375.5 31.5 373.5 30.5 Z" fill="#2a2a70"/>
<path d="M372.5 26.5 L377.5 26" stroke="#5ab0e6" stroke-width="0.6"/>
</g>
<g>
<path d="M698 50 L708 50 L708.5 73 L705.5 74 L703 56 L701.5 73.5 L698.5 73.5 Z" fill="#3a3a8c"/>
<path d="M696.5 73 L701.5 72.5 L701.5 75 L696.5 75.5 Z M703.5 73.5 L708.5 73 L708 76.5 L703.5 76.5 Z" fill="#7a6ed8"/>
<path d="M696 40 Q698 36.5 703 36.5 Q709 37 711 41 L714 49 L711.5 51 L709.5 47 L709 51 L697.5 51 Z" fill="#7a6ed8"/>
<path d="M688.5 39 L690 37.5 L697 42 L697 45.5 Z" fill="#ffffff"/>
<path d="M711 50 L713.5 49 L714.5 54 L712 54.5 Z" fill="#ffffff"/>
<path d="M709 55.5 L717.5 52.5 L718.5 61 L710 64 Z" fill="#4aa0dc"/>
<path d="M709 55.5 L717.5 52.5 L717.8 54.5 L709.3 57.5 Z" fill="#2a6eb0"/>
<path d="M700 31 Q701 29 704.5 29.5 Q707 30.5 706.5 34 Q705.5 37 702.5 36.5 Q700 35.5 700 31 Z" fill="#ffffff"/>
<path d="M699.5 31.5 Q700 28.5 704 28.7 Q707.5 29.5 707 32 L703 31.5 Z" fill="#2a2a70"/>
</g>
<g>
<path d="M51.5 392 L60.5 391.5 Q62 400 61.5 414 L58.8 414.5 L57.5 401 L53.5 414 L50.5 413 L54.5 400 Z" fill="#1f78be"/>
<path d="M49 413 L54 412.5 L54.5 415.5 L49.5 416.5 Z M57.5 414 L62.5 413.5 L62.5 417 L57.5 417 Z" fill="#18233a"/>
<path d="M48.5 383 Q51 380 55 380.5 Q59 381 60.5 384 L61.5 393 L51.5 393.5 Q49.5 390 48.5 386 Z" fill="#3aa0e8"/>
<path d="M60 384 L64.5 388 L67 383.5 L68.5 384.5 L65.5 392 L63.5 391.5 L60 388 Z" fill="#3aa0e8"/>
<circle cx="67.8" cy="383.7" r="1.1" fill="#ffffff"/>
<path d="M48.5 384 Q47 390 48 396 L49.5 396 L50 389 Z" fill="#3aa0e8"/>
<path d="M45.4 399 L51.5 396.5 L52.8 405.5 L46.5 408 Z" fill="#3ebf9a"/>
<path d="M47.5 398.5 Q48 395.5 49.8 395.5 Q51 396 51 397.5" fill="none" stroke="#18233a" stroke-width="0.6"/>
<path d="M52 376.5 Q53 373.5 57 374 Q60.5 375 60 379 Q59 382 55.5 381.5 Q52 381 52 376.5 Z" fill="#18233a"/>
<circle cx="51" cy="375" r="2.2" fill="#18233a"/>
<path d="M56.5 381 Q59.5 380.5 59.5 377.5" fill="none" stroke="#ffffff" stroke-width="0.7"/>
</g>
<g>
<path d="M396.5 368 L405 367.5 Q407 376 410.5 383.5 L408.5 385 L403 376 L400.5 387 L397.5 387 L398.5 375 Z" fill="#1f78be"/>
<path d="M395.5 386.5 L400 386 L399.5 390 L395 391 Z M408 383.5 L411 383 L411.5 387 L408.5 387 Z" fill="#18233a"/>
<path d="M397.5 356 Q400 353 404 353.5 Q408 354.5 409.5 358 L411 367 L407 368.5 L397 369 Z" fill="#3aa0e8"/>
<path d="M388 359.5 L397 355.3 L404.3 358.3 L395.5 362.7 Z" fill="#8ee0c6"/>
<path d="M388 359.5 L395.5 362.7 L395.5 371 L388 367.5 Z" fill="#3ebf9a"/>
<path d="M395.5 362.7 L404.3 358.3 L404.3 366.5 L395.5 371 Z" fill="#2ea886"/>
<path d="M391.5 361 L391.5 369 M399.5 360.5 L399.5 368.5 M392 357.5 L400 361" stroke="#ffffff" stroke-width="0.7" fill="none"/>
<path d="M399 349.5 Q400 347 403.5 347.5 Q406 348.5 405.5 351.5 Q404.5 354.5 401.5 354 Q399 353 399 349.5 Z" fill="#ffffff"/>
<path d="M398 348.5 Q399 345.8 403 346 Q406 346.8 405.5 349 L401 348.5 Z" fill="#18233a"/>
</g>
</svg></body></html>
